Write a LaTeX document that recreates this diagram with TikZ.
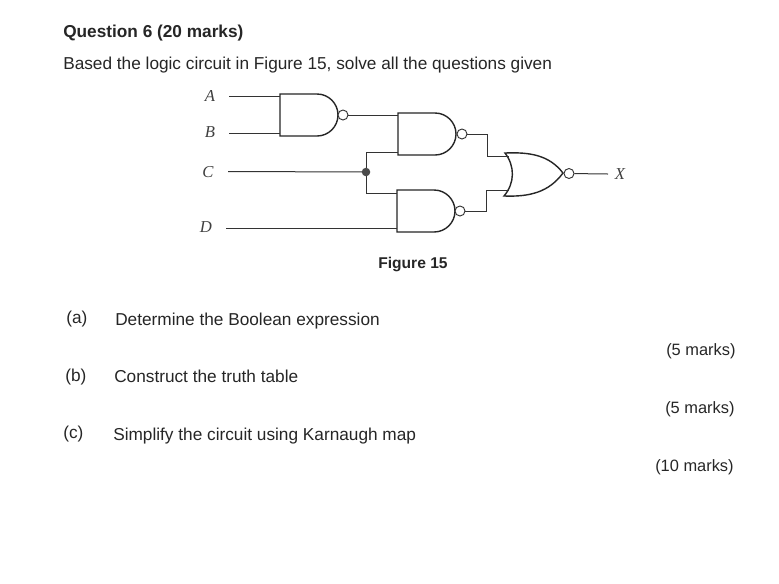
\documentclass[tikz,border=0pt]{standalone}
\usepackage{fontspec}
\setmainfont{Liberation Sans}
\newfontfamily\serifit{Liberation Serif}
\tikzset{
 txt/.style={inner sep=0pt,anchor=base west,font=\fontsize{12.93pt}{14pt}\selectfont,text=black!85},
 mk/.style={inner sep=0pt,anchor=base west,font=\fontsize{12.3pt}{14pt}\selectfont,text=black!85},
 vlab/.style={inner sep=0pt,anchor=center,font=\serifit\itshape\fontsize{12.5pt}{14pt}\selectfont,text=black!75},
 wire/.style={line width=0.75pt,black!80},
 gate/.style={line width=1.05pt,black!85},
 bub/.style={circle,draw=black!80,line width=0.7pt,fill=white,minimum size=7.5pt,inner sep=0pt}
}
\begin{document}
\begin{tikzpicture}[x=0.75pt,y=-0.75pt]
\useasboundingbox (0,0) rectangle (779,583);
\fill[white] (0,0) rectangle (779,583);
\node[txt,font=\bfseries\fontsize{12.93pt}{14pt}\selectfont] (q) at (63,37) {Question 6 (20 marks)};
\node[txt] (intro) at (63,69) {Based the logic circuit in Figure 15, solve all the questions given};
\node[vlab] (A) at (210,96) {A};
\node[vlab] (B) at (210,132) {B};
\node[vlab] (C) at (208,172) {C};
\node[vlab] (D) at (206,227) {D};
\node[vlab] (X) at (620,174) {X};
% gates
\draw[gate] (280,94) -- (317,94) arc[start angle=-90,end angle=90,radius=21] -- (280,136) -- cycle;
\node[bub] (b1) at (343,115) {};
\draw[gate] (398,113) -- (435,113) arc[start angle=-90,end angle=90,radius=21] -- (398,155) -- cycle;
\node[bub] (b2) at (462,134) {};
\draw[gate] (397,190) -- (434,190) arc[start angle=-90,end angle=90,radius=21] -- (397,232) -- cycle;
\node[bub] (b3) at (460,211) {};
\draw[gate] (505,153) .. controls (530,152) and (549,155) .. (563,173) .. controls (549,192) and (530,197) .. (504,196) .. controls (515,183) and (515,166) .. (505,153) -- cycle;
\node[bub] (b4) at (569,173.5) {};
% wire coordinates
\coordinate (ia) at (229,96);
\coordinate (ib) at (229,133);
\coordinate (ic) at (228,171.5);
\coordinate (id) at (226,228);
\coordinate (a1) at (280,96);
\coordinate (a2) at (280,133);
\coordinate (g2a) at (398,115);
\coordinate (g2b) at (398,152);
\coordinate (g3a) at (397,193);
\coordinate (g3b) at (397,228);
\coordinate (j) at (366,172);
\coordinate (o1) at (509,156);
\coordinate (o2) at (509,190);
\coordinate (xe) at (608,174);
\draw[wire] (ia) -- (a1);
\draw[wire] (ib) -- (a2);
\draw[wire] (ic) -- (j);
\draw[wire] (id) -- (g3b);
\draw[wire] (b1) -- (g2a);
\draw[wire] (j) |- (g2b);
\draw[wire] (j) |- (g3a);
\draw[wire] (b2) -| (487,156) -- (o1);
\draw[wire] (b3) -| (486,190) -- (o2);
\draw[wire] (b4) -- (xe);
\fill[black!70] (j) circle (3.2pt);
\node[txt,font=\bfseries\fontsize{11.7pt}{14pt}\selectfont] (fig) at (378,268) {Figure 15};
\node[txt] (la) at (66,323) {(a)};
\node[txt] (ta) at (115,325) {Determine the Boolean expression};
\node[mk] (ma) at (666,355) {(5 marks)};
\node[txt] (lb) at (65,381) {(b)};
\node[txt] (tb) at (114,382) {Construct the truth table};
\node[mk] (mb) at (665,413) {(5 marks)};
\node[txt] (lc) at (63,438) {(c)};
\node[txt] (tc) at (113,440) {Simplify the circuit using Karnaugh map};
\node[mk] (mc) at (655,471) {(10 marks)};
\end{tikzpicture}
\end{document}
